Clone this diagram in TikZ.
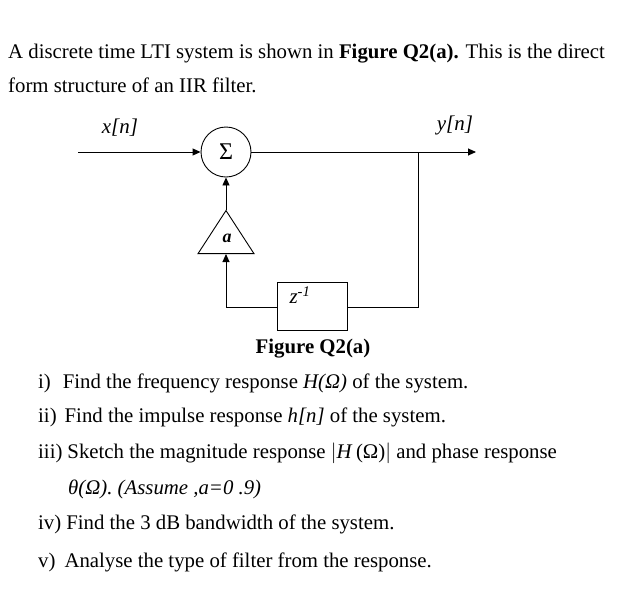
\documentclass[tikz,border=0pt]{standalone}
\usepackage{fontspec}
\setmainfont{Liberation Serif}
\usetikzlibrary{shapes.geometric,arrows.meta}
\begin{document}
\begin{tikzpicture}[x=1pt,y=-1pt,
  txt/.style={anchor=base west,inner sep=0pt,font=\fontsize{20.8}{24}\selectfont},
  lbl/.style={inner sep=0pt,font=\fontsize{21}{24}\selectfont\itshape},
  arr/.style={-{Triangle[length=8pt,width=7pt]},line width=0.9pt},
  ln/.style={line width=0.9pt}]
\useasboundingbox (0,0) rectangle (621,598);
\node[txt] (t1) at (8,58) {A discrete time LTI system is shown in \textbf{Figure Q2(a).} This is the direct};
\node[txt] (t2) at (8,92) {form structure of an IIR filter.};
\node[lbl] (xl) at (120,128) {x[n]};
\node[lbl] (yl) at (455,125) {y[n]};
\coordinate (in) at (78,152);
\node[circle,draw,ln,minimum size=50pt,inner sep=0pt,font=\fontsize{24}{26}\selectfont] (sum) at (226,152) {Σ};
\node[isosceles triangle,shape border rotate=90,isosceles triangle apex angle=66,draw,ln,minimum height=43pt,inner sep=0pt,anchor=south] (gain) at (226,254) {};
\node[lbl,font=\fontsize{18}{18}\selectfont\bfseries\itshape] at (227,238) {a};
\node[draw,ln,minimum width=70pt,minimum height=48pt,inner sep=0pt] (delay) at (312,306) {};
\node[lbl] at (300,295) {z\textsuperscript{-1}};
\coordinate (out) at (476,152);
\coordinate (br) at (418,152);
\coordinate (bl) at (226,307);
\draw[arr] (in) -- (sum);
\draw[arr] (sum) -- (out);
\draw[ln] (br) |- (delay.east |- 0,307);
\draw[arr] (delay.west |- 0,307) -- (bl) -- (gain.south);
\draw[arr] (gain.apex) -- (sum.south);
\node[txt,anchor=base,font=\fontsize{20.8}{24}\selectfont\bfseries] (cap) at (313,353) {Figure Q2(a)};
\node[txt] (i1) at (38,388) {i)\hspace{12pt}Find the frequency response \textit{H(Ω)} of the system.};
\node[txt] (i2) at (38,422) {ii)\hspace{8pt}Find the impulse response \textit{h[n]} of the system.};
\node[txt] (i3) at (38,458) {iii)\hspace{5pt}Sketch the magnitude response $|$\textit{H}\,(Ω)$|$ and phase response};
\node[txt] (i3b) at (68,494) {\textit{θ(Ω). (Assume ,a=0 .9)}};
\node[txt] (i4) at (38,529) {iv)\hspace{5pt}Find the 3 dB bandwidth of the system.};
\node[txt] (i5) at (38,567) {v)\hspace{9pt}Analyse the type of filter from the response.};
\end{tikzpicture}
\end{document}
